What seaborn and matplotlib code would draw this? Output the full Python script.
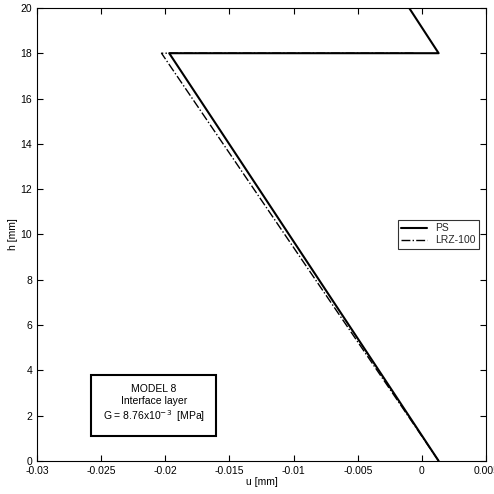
import matplotlib
matplotlib.use("Agg")
import matplotlib.pyplot as plt
import seaborn as sns
import pandas as pd

sns.set_style("ticks")
plt.rcParams['font.family'] = ['Liberation Sans', 'DejaVu Sans']

ps_u = [0.0013, -0.0197, 0.0013, -0.0010]
ps_h = [0, 18, 18, 20]
lrz_u = [0.0013, -0.0203, -0.0005]
lrz_h = [0, 18, 18]

fig = plt.figure(figsize=(4.94, 4.94), dpi=100)
ax = fig.add_axes([0.075, 0.067, 0.909, 0.917])
sns.lineplot(x=ps_u, y=ps_h, sort=False, estimator=None, ax=ax, color='black', lw=1.5, label='PS')
sns.lineplot(x=lrz_u, y=lrz_h, sort=False, estimator=None, ax=ax, color='black', lw=1.0, linestyle='-.', label='LRZ-100')
ax.set_xlim(-0.03, 0.005)
ax.set_ylim(0, 20)
ax.set_xticks([-0.03, -0.025, -0.02, -0.015, -0.01, -0.005, 0, 0.005])
ax.set_xticklabels(['-0.03', '-0.025', '-0.02', '-0.015', '-0.01', '-0.005', '0', '0.005'])
ax.set_yticks(range(0, 21, 2))
ax.tick_params(direction='in', labelsize=7.5, top=True, right=True, length=4, colors='black')
for s in ax.spines.values():
    s.set_linewidth(0.8)
    s.set_color('black')
ax.set_xlabel('u [mm]', fontsize=7.5, labelpad=1, color='black')
ax.set_ylabel('h [mm]', fontsize=7.5, labelpad=2, color='black')
leg = ax.legend(loc='center right', bbox_to_anchor=(0.995, 0.5), fontsize=7.5, frameon=True,
                fancybox=False, edgecolor='black', handlelength=2.5, borderpad=0.3, labelspacing=0.2)
leg.get_frame().set_linewidth(0.8)
ax.text(0.26, 0.125, 'MODEL 8\nInterface layer\nG = 8.76x10$^{-3}$  [MPa]', transform=ax.transAxes,
        ha='center', va='center', fontsize=7.5, linespacing=1.2, color='black',
        bbox=dict(boxstyle='square,pad=1.1', fc='white', ec='black', lw=1.5))
fig.savefig('out.png', dpi=100)
